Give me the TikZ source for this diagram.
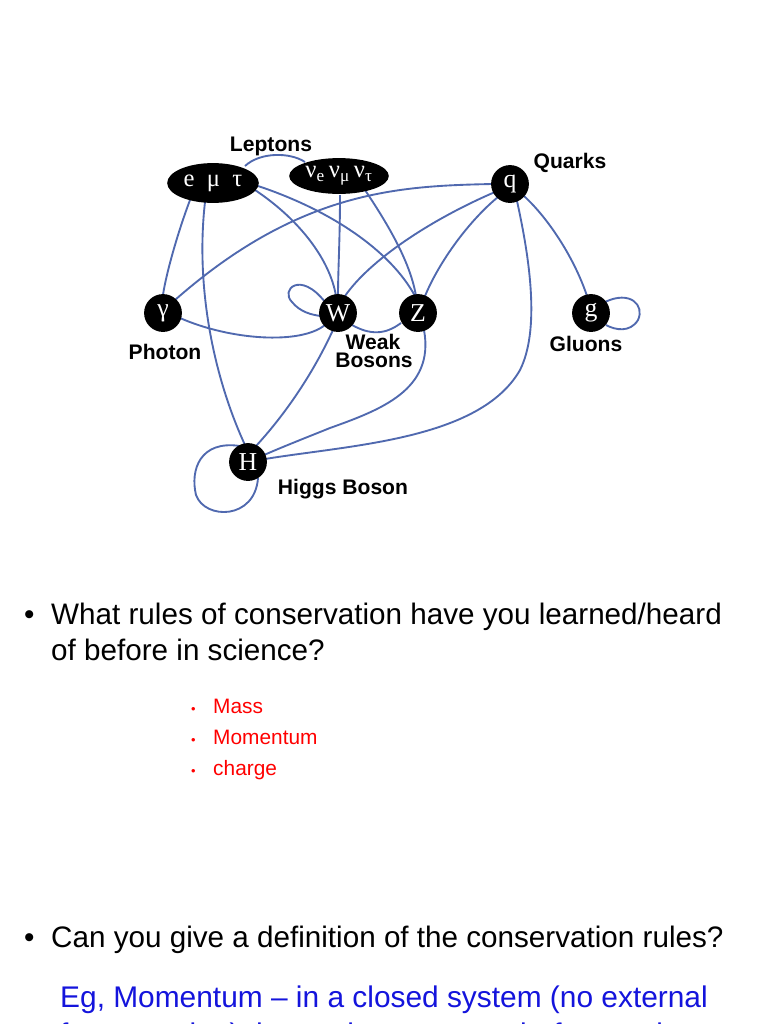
\documentclass[tikz,border=0pt]{standalone}
\usepackage{fontspec}
\setmainfont{Liberation Sans}
\newfontfamily\serifx{Liberation Serif}
\usetikzlibrary{shapes.geometric}
\begin{document}
\begin{tikzpicture}[x=0.03cm,y=-0.03cm,
  p/.style={circle,fill=black,text=white,minimum size=38*0.85pt,inner sep=0pt,font=\serifx\fontsize{22}{22}\selectfont},
  el/.style={ellipse,fill=black,text=white,inner sep=0pt,font=\serifx\fontsize{21}{21}\selectfont},
  lbl/.style={font=\bfseries\fontsize{18}{16}\selectfont,align=center,inner sep=0pt},
  e/.style={line width=1.6pt,color={rgb,255:red,80;green,105;blue,175}},
  bt/.style={anchor=base west,inner sep=0pt,font=\fontsize{25.3}{25}\selectfont},
  rt/.style={anchor=base west,inner sep=0pt,font=\fontsize{17.8}{17}\selectfont,text=red}]
\useasboundingbox (0,0) rectangle (768,1024);
\clip (0,0) rectangle (768,1024);
% edges first
\coordinate (lt1) at (245,166); \coordinate (nt1) at (305,162);
\draw[e] (lt1) .. controls (260,152) and (290,152) .. (nt1);
\draw[e] (190,200) .. controls (175,240) and (165,280) .. (163,295);
\draw[e] (205,202) .. controls (195,290) and (215,380) .. (245,445);
\draw[e] (255,190) .. controls (300,220) and (330,260) .. (336,296);
\draw[e] (258,186) .. controls (330,210) and (390,250) .. (415,296);
\draw[e] (340,195) .. controls (340,240) and (338,270) .. (338,296);
\draw[e] (365,190) .. controls (385,220) and (410,260) .. (416,296);
% q edges
\draw[e] (492,184) .. controls (400,186) and (300,190) .. (175,300);
\draw[e] (495,192) .. controls (430,220) and (370,260) .. (345,296);
\draw[e] (498,197) .. controls (470,220) and (440,260) .. (425,296);
\draw[e] (524,196) .. controls (550,220) and (575,260) .. (587,296);
\draw[e] (517,201) .. controls (530,260) and (540,330) .. (520,370)
  .. controls (480,440) and (350,445) .. (265,459);
% boson edges
\draw[e] (180,318) .. controls (230,340) and (300,345) .. (325,325);
\draw[e] (325,302) .. controls (300,270) and (280,290) .. (292,302) .. controls (300,312) and (312,315) .. (321,316);
\draw[e] (352,325) .. controls (370,335) and (385,335) .. (401,323);
\draw[e] (333,330) .. controls (310,380) and (280,420) .. (256,446);
\draw[e] (424,330) .. controls (435,390) and (380,410) .. (330,428) .. controls (300,440) and (280,448) .. (264,455);
\draw[e] (240,446) .. controls (200,440) and (190,470) .. (196,495) .. controls (205,520) and (255,520) .. (258,478);
\draw[e] (605,302) .. controls (630,290) and (645,305) .. (638,320) .. controls (630,333) and (615,330) .. (606,325);
% nodes
\node[el,minimum width=92*0.85pt,minimum height=40*0.85pt] (L) at (213,183) {e\,\,\,μ\,\,\,τ};
\node[el,minimum width=100*0.85pt,minimum height=36*0.85pt] (N) at (339,176) {ν\textsubscript{e}\,ν\textsubscript{μ}\,ν\textsubscript{τ}};
\node[p] (q) at (510,184) {q};
\node[p] (gam) at (163,313) {γ};
\node[p] (W) at (338,313) {W};
\node[p] (Z) at (418,313) {Z};
\node[p] (g) at (591,313) {g};
\node[p] (H) at (248,462) {H};
% labels
\node[lbl] (l1) at (271,146) {Leptons};
\node[lbl] (l2) at (570,163) {Quarks};
\node[lbl] (l3) at (165,352) {Photon};
\node[lbl] (l4a) at (373,342) {Weak};
\node[lbl] (l4b) at (374,360) {Bosons};
\node[lbl] (l5) at (586,344) {Gluons};
\node[lbl] (l6) at (343,489) {Higgs Boson};
% text
\node[bt] (b1) at (24,624) {•};
\node[bt] (t1) at (51,624) {What rules of conservation have you learned/heard};
\node[bt] (t2) at (51,660) {of before in science?};
\node[rt] (r0) at (191,713) {\fontsize{11}{11}\selectfont•};
\node[rt] (r1) at (213,713) {Mass};
\node[rt] (r2a) at (191,744) {\fontsize{11}{11}\selectfont•};
\node[rt] (r2) at (213,744) {Momentum};
\node[rt] (r3a) at (191,775) {\fontsize{11}{11}\selectfont•};
\node[rt] (r3) at (213,775) {charge};
\node[bt] (b2) at (24,947) {•};
\node[bt] (t3) at (51,947) {Can you give a definition of the conservation rules?};
\node[bt,text={rgb,255:red,20;green,20;blue,220},font=\fontsize{25.5}{25}\selectfont] (t4) at (60,1007) {Eg, Momentum – in a closed system (no external};
\node[bt,text={rgb,255:red,20;green,20;blue,220},font=\fontsize{25.5}{25}\selectfont] (t5) at (60,1044) {forces acting) the total momentum before and};
\end{tikzpicture}
\end{document}
